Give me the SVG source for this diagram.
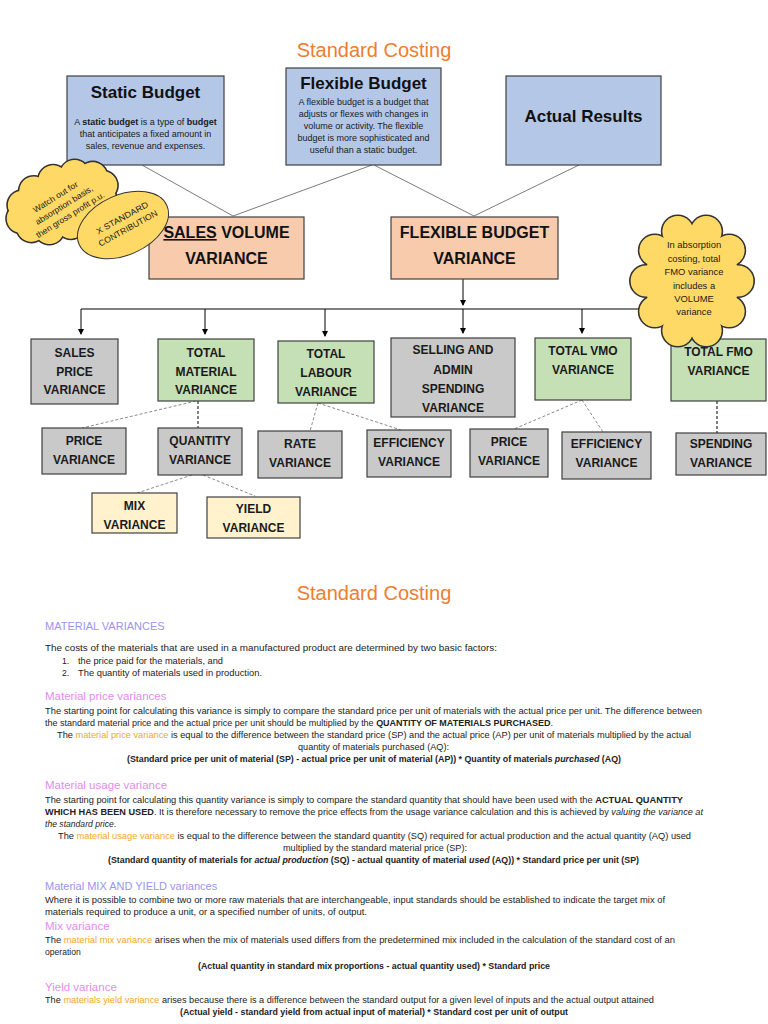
<svg xmlns="http://www.w3.org/2000/svg" width="768" height="1024" viewBox="0 0 768 1024">
<defs>
<style>
.bg{fill:#ffffff}
.title{font-family:"Liberation Sans",Arial,sans-serif;font-size:20px;fill:#ED7D31}
.blue{fill:#B4C7E7;stroke:#404040;stroke-width:1.2}
.peach{fill:#F8CBAD;stroke:#404040;stroke-width:1.2}
.grey{fill:#C9C9C9;stroke:#404040;stroke-width:1.2}
.green{fill:#C5E0B4;stroke:#404040;stroke-width:1.2}
.cream{fill:#FFF2CC;stroke:#404040;stroke-width:1.2}
.h17{font-family:"Liberation Sans",Arial,sans-serif;font-size:17px;font-weight:bold;fill:#111;text-anchor:middle}
.h16{font-family:"Liberation Sans",Arial,sans-serif;font-size:16px;font-weight:bold;fill:#111;text-anchor:middle}
.b12{font-family:"Liberation Sans",Arial,sans-serif;font-size:12px;font-weight:bold;fill:#1a1a1a;text-anchor:middle}
.s9{font-family:"Liberation Sans",Arial,sans-serif;font-size:9px;fill:#1a1a1a;text-anchor:middle}
.c9{font-family:"Liberation Sans",Arial,sans-serif;font-size:9.4px;fill:#1a1a1a;text-anchor:middle}
.c8{font-family:"Liberation Sans",Arial,sans-serif;font-size:8.4px;fill:#1a1a1a}
.body{font-family:"Liberation Sans",Arial,sans-serif;font-size:8.6px;fill:#222}
.bold{font-weight:bold}
.ital{font-style:italic}
.or{fill:#EFA72E}
.hl{font-family:"Liberation Sans",Arial,sans-serif;font-size:11px;fill:#9A94F0}
.hp{font-family:"Liberation Sans",Arial,sans-serif;font-size:11.5px;fill:#E38CEF}
.line{stroke:#595959;stroke-width:0.8;fill:none}
.arr{stroke:#000;stroke-width:1;fill:none}
.dash{stroke:#8a8a8a;stroke-width:1;stroke-dasharray:3 2;fill:none}
.dashk{stroke:#333;stroke-width:1.2;stroke-dasharray:3 2;fill:none}
.dashg{stroke:#707070;stroke-width:1.8;stroke-dasharray:3 2;fill:none}
.cs{fill:#FFD966;stroke:#333;stroke-width:2}
.cf{fill:#FFD966;stroke:none}
</style>
<marker id="ah" markerWidth="6" markerHeight="6" refX="5" refY="3" orient="auto" markerUnits="userSpaceOnUse">
<path d="M0,0 L6,3 L0,6 Z" fill="#000"/>
</marker>
</defs>
<rect class="bg" x="0" y="0" width="768" height="1024"/>

<text class="title" x="374" y="57" text-anchor="middle">Standard Costing</text>

<g id="connectors">
<line class="line" x1="142" y1="165" x2="233" y2="216"/>
<line class="line" x1="372" y1="165" x2="233" y2="216"/>
<line class="line" x1="374" y1="165" x2="474" y2="216"/>
<line class="line" x1="579" y1="165" x2="474" y2="216"/>
<line class="arr" x1="463" y1="279" x2="463" y2="305" marker-end="url(#ah)"/>
<line class="arr" x1="81" y1="309" x2="717" y2="309"/>
<line class="arr" x1="81" y1="309" x2="81" y2="334" marker-end="url(#ah)"/>
<line class="arr" x1="205" y1="309" x2="205" y2="334" marker-end="url(#ah)"/>
<line class="arr" x1="325" y1="309" x2="325" y2="336" marker-end="url(#ah)"/>
<line class="arr" x1="463" y1="309" x2="463" y2="333" marker-end="url(#ah)"/>
<line class="arr" x1="582" y1="309" x2="582" y2="333" marker-end="url(#ah)"/>
<line class="arr" x1="717" y1="309" x2="717" y2="334" marker-end="url(#ah)"/>
<line class="dash" x1="196" y1="401" x2="82" y2="428"/>
<line class="dashk" x1="198" y1="401" x2="198" y2="428"/>
<line class="dash" x1="192" y1="475" x2="137" y2="493"/>
<line class="dash" x1="203" y1="475" x2="255" y2="496"/>
<line class="dash" x1="318" y1="403" x2="310" y2="431"/>
<line class="dash" x1="318" y1="403" x2="401" y2="430"/>
<line class="dash" x1="582" y1="400" x2="514" y2="429"/>
<line class="dash" x1="582" y1="400" x2="603" y2="432"/>
<line class="dashg" x1="717" y1="401" x2="717" y2="433"/>
</g>

<g id="static-budget">
<rect class="blue" x="67" y="76" width="157" height="89"/>
<text class="h17" x="145.5" y="98">Static Budget</text>
<text class="s9" x="145.5" y="125">A <tspan class="bold">static budget</tspan> is a type of <tspan class="bold">budget</tspan></text>
<text class="s9" x="145.5" y="137">that anticipates a fixed amount in</text>
<text class="s9" x="145.5" y="149">sales, revenue and expenses.</text>
</g>

<g id="flexible-budget">
<rect class="blue" x="286" y="68" width="155" height="97"/>
<text class="h17" x="363.5" y="89">Flexible Budget</text>
<text class="s9" x="363.5" y="105">A flexible budget is a budget that</text>
<text class="s9" x="363.5" y="117">adjusts or flexes with changes in</text>
<text class="s9" x="363.5" y="129">volume or activity. The flexible</text>
<text class="s9" x="363.5" y="141">budget is more sophisticated and</text>
<text class="s9" x="363.5" y="153">useful than a static budget.</text>
</g>

<g id="actual-results">
<rect class="blue" x="506" y="76" width="155" height="89"/>
<text class="h17" x="583.5" y="122">Actual Results</text>
</g>

<g id="sales-volume-variance">
<rect class="peach" x="149" y="217" width="155" height="62"/>
<text class="h16" x="226.5" y="238"><tspan text-decoration="underline">SALES</tspan> VOLUME</text>
<text class="h16" x="226.5" y="264">VARIANCE</text>
</g>

<g id="flexible-budget-variance">
<rect class="peach" x="391" y="217" width="167" height="62"/>
<text class="h16" x="474.5" y="238">FLEXIBLE BUDGET</text>
<text class="h16" x="474.5" y="264">VARIANCE</text>
</g>

<g id="sales-price-variance">
<rect class="grey" x="31" y="339" width="87" height="65"/>
<text class="b12" x="74.5" y="356.5">SALES</text>
<text class="b12" x="74.5" y="375.5">PRICE</text>
<text class="b12" x="74.5" y="393.5">VARIANCE</text>
</g>

<g id="total-material-variance">
<rect class="green" x="158" y="339" width="96" height="62"/>
<text class="b12" x="206" y="356.5">TOTAL</text>
<text class="b12" x="206" y="375.5">MATERIAL</text>
<text class="b12" x="206" y="393.5">VARIANCE</text>
</g>

<g id="total-labour-variance">
<rect class="green" x="278" y="341" width="96" height="62"/>
<text class="b12" x="326" y="357.5">TOTAL</text>
<text class="b12" x="326" y="376.5">LABOUR</text>
<text class="b12" x="326" y="395.5">VARIANCE</text>
</g>

<g id="selling-admin-variance">
<rect class="grey" x="391" y="338" width="124" height="79"/>
<text class="b12" x="453" y="354">SELLING AND</text>
<text class="b12" x="453" y="373.5">ADMIN</text>
<text class="b12" x="453" y="393">SPENDING</text>
<text class="b12" x="453" y="411.5">VARIANCE</text>
</g>

<g id="total-vmo-variance">
<rect class="green" x="535" y="338" width="96" height="62"/>
<text class="b12" x="583" y="355">TOTAL VMO</text>
<text class="b12" x="583" y="373.5">VARIANCE</text>
</g>

<g id="total-fmo-variance">
<rect class="green" x="671" y="339" width="95" height="62"/>
<text class="b12" x="718.5" y="356">TOTAL FMO</text>
<text class="b12" x="718.5" y="374.5">VARIANCE</text>
</g>

<g id="price-variance">
<rect class="grey" x="42" y="428" width="84" height="46"/>
<text class="b12" x="84" y="444.5">PRICE</text>
<text class="b12" x="84" y="463.5">VARIANCE</text>
</g>

<g id="quantity-variance">
<rect class="grey" x="158" y="428" width="84" height="47"/>
<text class="b12" x="200" y="444.5">QUANTITY</text>
<text class="b12" x="200" y="463.5">VARIANCE</text>
</g>

<g id="rate-variance">
<rect class="grey" x="258" y="431" width="84" height="47"/>
<text class="b12" x="300" y="448">RATE</text>
<text class="b12" x="300" y="467">VARIANCE</text>
</g>

<g id="labour-efficiency-variance">
<rect class="grey" x="367" y="430" width="84" height="47"/>
<text class="b12" x="409" y="447">EFFICIENCY</text>
<text class="b12" x="409" y="466">VARIANCE</text>
</g>

<g id="vmo-price-variance">
<rect class="grey" x="470" y="429" width="78" height="48"/>
<text class="b12" x="509" y="446">PRICE</text>
<text class="b12" x="509" y="464.5">VARIANCE</text>
</g>

<g id="vmo-efficiency-variance">
<rect class="grey" x="562" y="432" width="89" height="47"/>
<text class="b12" x="606.5" y="448">EFFICIENCY</text>
<text class="b12" x="606.5" y="467">VARIANCE</text>
</g>

<g id="spending-variance">
<rect class="grey" x="676" y="433" width="90" height="42"/>
<text class="b12" x="721" y="448">SPENDING</text>
<text class="b12" x="721" y="467">VARIANCE</text>
</g>

<g id="mix-variance">
<rect class="cream" x="92" y="493" width="85" height="40"/>
<text class="b12" x="134.5" y="510">MIX</text>
<text class="b12" x="134.5" y="529">VARIANCE</text>
</g>

<g id="yield-variance">
<rect class="cream" x="207" y="497" width="93" height="41"/>
<text class="b12" x="253.5" y="513">YIELD</text>
<text class="b12" x="253.5" y="532">VARIANCE</text>
</g>

<g id="cloud-absorption-note">
<g transform="translate(62,202) rotate(-22)">
<circle class="cs" cx="44" cy="0" r="15"/><circle class="cs" cx="38" cy="12" r="15"/><circle class="cs" cx="22" cy="20.8" r="15"/><circle class="cs" cx="0" cy="24" r="15"/><circle class="cs" cx="-22" cy="20.8" r="15"/><circle class="cs" cx="-38" cy="12" r="15"/><circle class="cs" cx="-44" cy="0" r="15"/><circle class="cs" cx="-38" cy="-12" r="15"/><circle class="cs" cx="-22" cy="-20.8" r="15"/><circle class="cs" cx="0" cy="-24" r="15"/><circle class="cs" cx="22" cy="-20.8" r="15"/><circle class="cs" cx="38" cy="-12" r="15"/>
<circle class="cf" cx="44" cy="0" r="14.4"/><circle class="cf" cx="38" cy="12" r="14.4"/><circle class="cf" cx="22" cy="20.8" r="14.4"/><circle class="cf" cx="0" cy="24" r="14.4"/><circle class="cf" cx="-22" cy="20.8" r="14.4"/><circle class="cf" cx="-38" cy="12" r="14.4"/><circle class="cf" cx="-44" cy="0" r="14.4"/><circle class="cf" cx="-38" cy="-12" r="14.4"/><circle class="cf" cx="-22" cy="-20.8" r="14.4"/><circle class="cf" cx="0" cy="-24" r="14.4"/><circle class="cf" cx="22" cy="-20.8" r="14.4"/><circle class="cf" cx="38" cy="-12" r="14.4"/>
<ellipse class="cf" cx="0" cy="0" rx="46" ry="26"/>
</g>
<g transform="translate(64,205) rotate(-32)">
<text class="c8" x="-28.5" y="-8.5" textLength="51" lengthAdjust="spacingAndGlyphs">Watch out for</text>
<text class="c8" x="-33" y="3" textLength="66" lengthAdjust="spacingAndGlyphs">absorption basis,</text>
<text class="c8" x="-39.5" y="14.5" textLength="79" lengthAdjust="spacingAndGlyphs">then gross profit p.u.</text>
</g>
</g>

<g id="ellipse-contribution">
<ellipse cx="123" cy="225" rx="48" ry="30" transform="rotate(-24 123 225)" fill="#FFD966" stroke="#333" stroke-width="1"/>
<g transform="translate(125,223) rotate(-29)">
<text class="c8" x="-29" y="-3" textLength="58" lengthAdjust="spacingAndGlyphs">X STANDARD</text>
<text class="c8" x="-33" y="9" textLength="66" lengthAdjust="spacingAndGlyphs">CONTRIBUTION</text>
</g>
</g>

<g id="cloud-fmo-note">
<circle class="cs" cx="738" cy="281" r="16"/><circle class="cs" cx="729.2" cy="311.6" r="16"/><circle class="cs" cx="706.2" cy="330.5" r="16"/><circle class="cs" cx="677.8" cy="330.5" r="16"/><circle class="cs" cx="654.8" cy="311.6" r="16"/><circle class="cs" cx="646" cy="281" r="16"/><circle class="cs" cx="654.8" cy="250.4" r="16"/><circle class="cs" cx="677.8" cy="231.5" r="16"/><circle class="cs" cx="706.2" cy="231.5" r="16"/><circle class="cs" cx="729.2" cy="250.4" r="16"/>
<circle class="cf" cx="738" cy="281" r="15.4"/><circle class="cf" cx="729.2" cy="311.6" r="15.4"/><circle class="cf" cx="706.2" cy="330.5" r="15.4"/><circle class="cf" cx="677.8" cy="330.5" r="15.4"/><circle class="cf" cx="654.8" cy="311.6" r="15.4"/><circle class="cf" cx="646" cy="281" r="15.4"/><circle class="cf" cx="654.8" cy="250.4" r="15.4"/><circle class="cf" cx="677.8" cy="231.5" r="15.4"/><circle class="cf" cx="706.2" cy="231.5" r="15.4"/><circle class="cf" cx="729.2" cy="250.4" r="15.4"/>
<ellipse class="cf" cx="692" cy="281" rx="47" ry="53"/>
<text class="c9" x="694" y="248">In absorption</text>
<text class="c9" x="694" y="261.5">costing, total</text>
<text class="c9" x="694" y="275">FMO variance</text>
<text class="c9" x="694" y="288.5">includes a</text>
<text class="c9" x="694" y="302">VOLUME</text>
<text class="c9" x="694" y="315">variance</text>
</g>

<text class="title" x="374" y="600" text-anchor="middle">Standard Costing</text>

<g id="notes">
<text class="hl" x="45" y="630">MATERIAL VARIANCES</text>
<text class="body" x="45" y="651" textLength="452" lengthAdjust="spacingAndGlyphs">The costs of the materials that are used in a manufactured product are determined by two basic factors:</text>
<text class="body" x="62" y="664">1.</text>
<text class="body" x="78" y="664" textLength="145" lengthAdjust="spacingAndGlyphs">the price paid for the materials, and</text>
<text class="body" x="62" y="676">2.</text>
<text class="body" x="78" y="676" textLength="184" lengthAdjust="spacingAndGlyphs">The quantity of materials used in production.</text>

<text class="hp" x="45" y="700">Material price variances</text>
<text class="body" x="45" y="714" textLength="657" lengthAdjust="spacingAndGlyphs">The starting point for calculating this variance is simply to compare the standard price per unit of materials with the actual price per unit. The difference between</text>
<text class="body" x="45" y="726" textLength="508" lengthAdjust="spacingAndGlyphs">the standard material price and the actual price per unit should be multiplied by the <tspan class="bold">QUANTITY OF MATERIALS PURCHASED</tspan>.</text>
<text class="body" x="57" y="738" textLength="634" lengthAdjust="spacingAndGlyphs">The <tspan class="or">material price variance</tspan> is equal to the difference between the standard price (SP) and the actual price (AP) per unit of materials multiplied by the actual</text>
<text class="body" x="298" y="750" textLength="151" lengthAdjust="spacingAndGlyphs">quantity of materials purchased (AQ):</text>
<text class="body bold" x="127" y="762" textLength="494" lengthAdjust="spacingAndGlyphs">(Standard price per unit of material (SP) - actual price per unit of material (AP)) * Quantity of materials <tspan class="ital">purchased</tspan> (AQ)</text>

<text class="hp" x="45" y="789">Material usage variance</text>
<text class="body" x="45" y="803" textLength="638" lengthAdjust="spacingAndGlyphs">The starting point for calculating this quantity variance is simply to compare the standard quantity that should have been used with the <tspan class="bold">ACTUAL QUANTITY</tspan></text>
<text class="body" x="45" y="815" textLength="658" lengthAdjust="spacingAndGlyphs"><tspan class="bold">WHICH HAS BEEN USED</tspan>. It is therefore necessary to remove the price effects from the usage variance calculation and this is achieved by <tspan class="ital">valuing the variance at</tspan></text>
<text class="body" x="45" y="827"><tspan class="ital">the standard price</tspan>.</text>
<text class="body" x="58" y="839" textLength="633" lengthAdjust="spacingAndGlyphs">The <tspan class="or">material usage variance</tspan> is equal to the difference between the standard quantity (SQ) required for actual production and the actual quantity (AQ) used</text>
<text class="body" x="283" y="851" textLength="184" lengthAdjust="spacingAndGlyphs">multiplied by the standard material price (SP):</text>
<text class="body bold" x="108" y="863" textLength="531" lengthAdjust="spacingAndGlyphs">(Standard quantity of materials for <tspan class="ital">actual production</tspan> (SQ) - actual quantity of material <tspan class="ital">used</tspan> (AQ)) * Standard price per unit (SP)</text>

<text class="hl" x="45" y="890">Material MIX AND YIELD variances</text>
<text class="body" x="45" y="903" textLength="620" lengthAdjust="spacingAndGlyphs">Where it is possible to combine two or more raw materials that are interchangeable, input standards should be established to indicate the target mix of</text>
<text class="body" x="45" y="915" textLength="322" lengthAdjust="spacingAndGlyphs">materials required to produce a unit, or a specified number of units, of output.</text>
<text class="hp" x="45" y="930">Mix variance</text>
<text class="body" x="45" y="943" textLength="630" lengthAdjust="spacingAndGlyphs">The <tspan class="or">material mix variance</tspan> arises when the mix of materials used differs from the predetermined mix included in the calculation of the standard cost of an</text>
<text class="body" x="45" y="955">operation</text>
<text class="body bold" x="198" y="969" textLength="352" lengthAdjust="spacingAndGlyphs">(Actual quantity in standard mix proportions - actual quantity used) * Standard price</text>

<text class="hp" x="45" y="991">Yield variance</text>
<text class="body" x="45" y="1003" textLength="609" lengthAdjust="spacingAndGlyphs">The <tspan class="or">materials yield variance</tspan> arises because there is a difference between the standard output for a given level of inputs and the actual output attained</text>
<text class="body bold" x="180" y="1015" textLength="388" lengthAdjust="spacingAndGlyphs">(Actual yield - standard yield from actual input of material) * Standard cost per unit of output</text>
</g>
</svg>
